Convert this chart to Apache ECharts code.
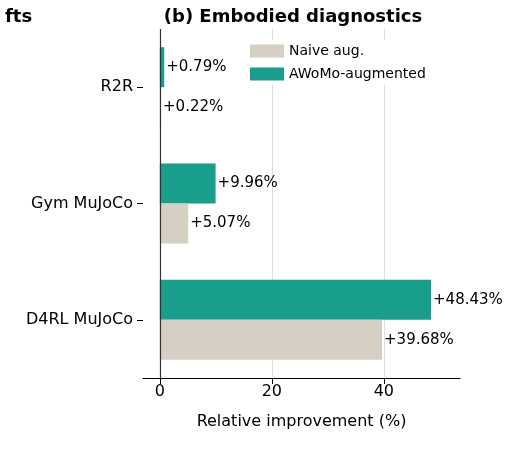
<!DOCTYPE html>
<html><head><meta charset="utf-8">
<script src="https://cdn.jsdelivr.net/npm/echarts@6/dist/echarts.min.js"></script>
<style>body{margin:0}#chart{width:520px;height:451px}</style>
</head><body><div id="chart"></div>
<script>
// data
const categories = ['R2R', 'Gym MuJoCo', 'D4RL MuJoCo'];
const awomo = [0.79, 9.96, 48.43];
const naive = [0.22, 5.07, 39.68];
const gridValues = [20, 40];

const FONT = 'DejaVu Sans';
const chart = echarts.init(document.getElementById('chart'));
const lbl = { show: true, position: 'right', distance: 2, fontFamily: FONT, fontSize: 15, color: '#000',
  formatter: p => '+' + p.value.toFixed(2) + '%' };

chart.setOption({
  animation: false,
  textStyle: { fontFamily: FONT },
  title: [
    { text: '(b) Embodied diagnostics', left: 288, top: 3, textAlign: 'center',
      textStyle: { fontFamily: FONT, fontSize: 18, fontWeight: 'bold', color: '#000' } },
    { text: 'fts', left: 0, top: 3, textStyle: { fontFamily: FONT, fontSize: 18, fontWeight: 'bold', color: '#000' } }
  ],
  legend: {
    data: ['Naive aug.', 'AWoMo-augmented'], orient: 'vertical', left: 244, top: 40,
    icon: 'rect', itemWidth: 34, itemHeight: 13, itemGap: 9, padding: [4, 6],
    backgroundColor: '#fff',
    textStyle: { fontFamily: FONT, fontSize: 14, color: '#000' }
  },
  grid: { left: 143, width: 317, top: 29, height: 349 },
  xAxis: {
    type: 'value', min: -3, max: 53.6,
    axisLine: { show: true, onZero: false, lineStyle: { color: '#000', width: 1.2 } },
    axisTick: { show: true, customValues: [0, 20, 40], length: 6, lineStyle: { color: '#000' } },
    axisLabel: { customValues: [0, 20, 40], fontSize: 16, color: '#000', margin: 6 },
    splitLine: { show: false },
    name: 'Relative improvement (%)', nameLocation: 'middle', nameGap: 36,
    nameTextStyle: { fontSize: 16, color: '#000' }
  },
  yAxis: {
    type: 'category', data: categories, inverse: true,
    axisLine: { show: false, onZero: false },
    axisTick: { show: true, alignWithLabel: true, length: 6, lineStyle: { color: '#000' } },
    axisLabel: { fontSize: 16, color: '#000', margin: 10 }
  },
  series: [
    { name: 'AWoMo-augmented', type: 'bar', data: awomo, barWidth: 40, barGap: '0%',
      itemStyle: { color: '#1a9e8c' }, label: lbl,
      markLine: { silent: true, symbol: 'none', label: { show: false }, z: 1,
        lineStyle: { color: '#dddddd', type: 'solid', width: 1 },
        data: gridValues.map(v => ({ xAxis: v })) } },
    { name: 'Naive aug.', type: 'bar', data: naive, barWidth: 40,
      itemStyle: { color: '#d6cfc4' }, label: lbl,
      markLine: { silent: true, symbol: 'none', label: { show: false },
        lineStyle: { color: '#333', type: 'solid', width: 1.2 },
        data: [{ xAxis: 0 }] } }
  ]
});
</script></body></html>
